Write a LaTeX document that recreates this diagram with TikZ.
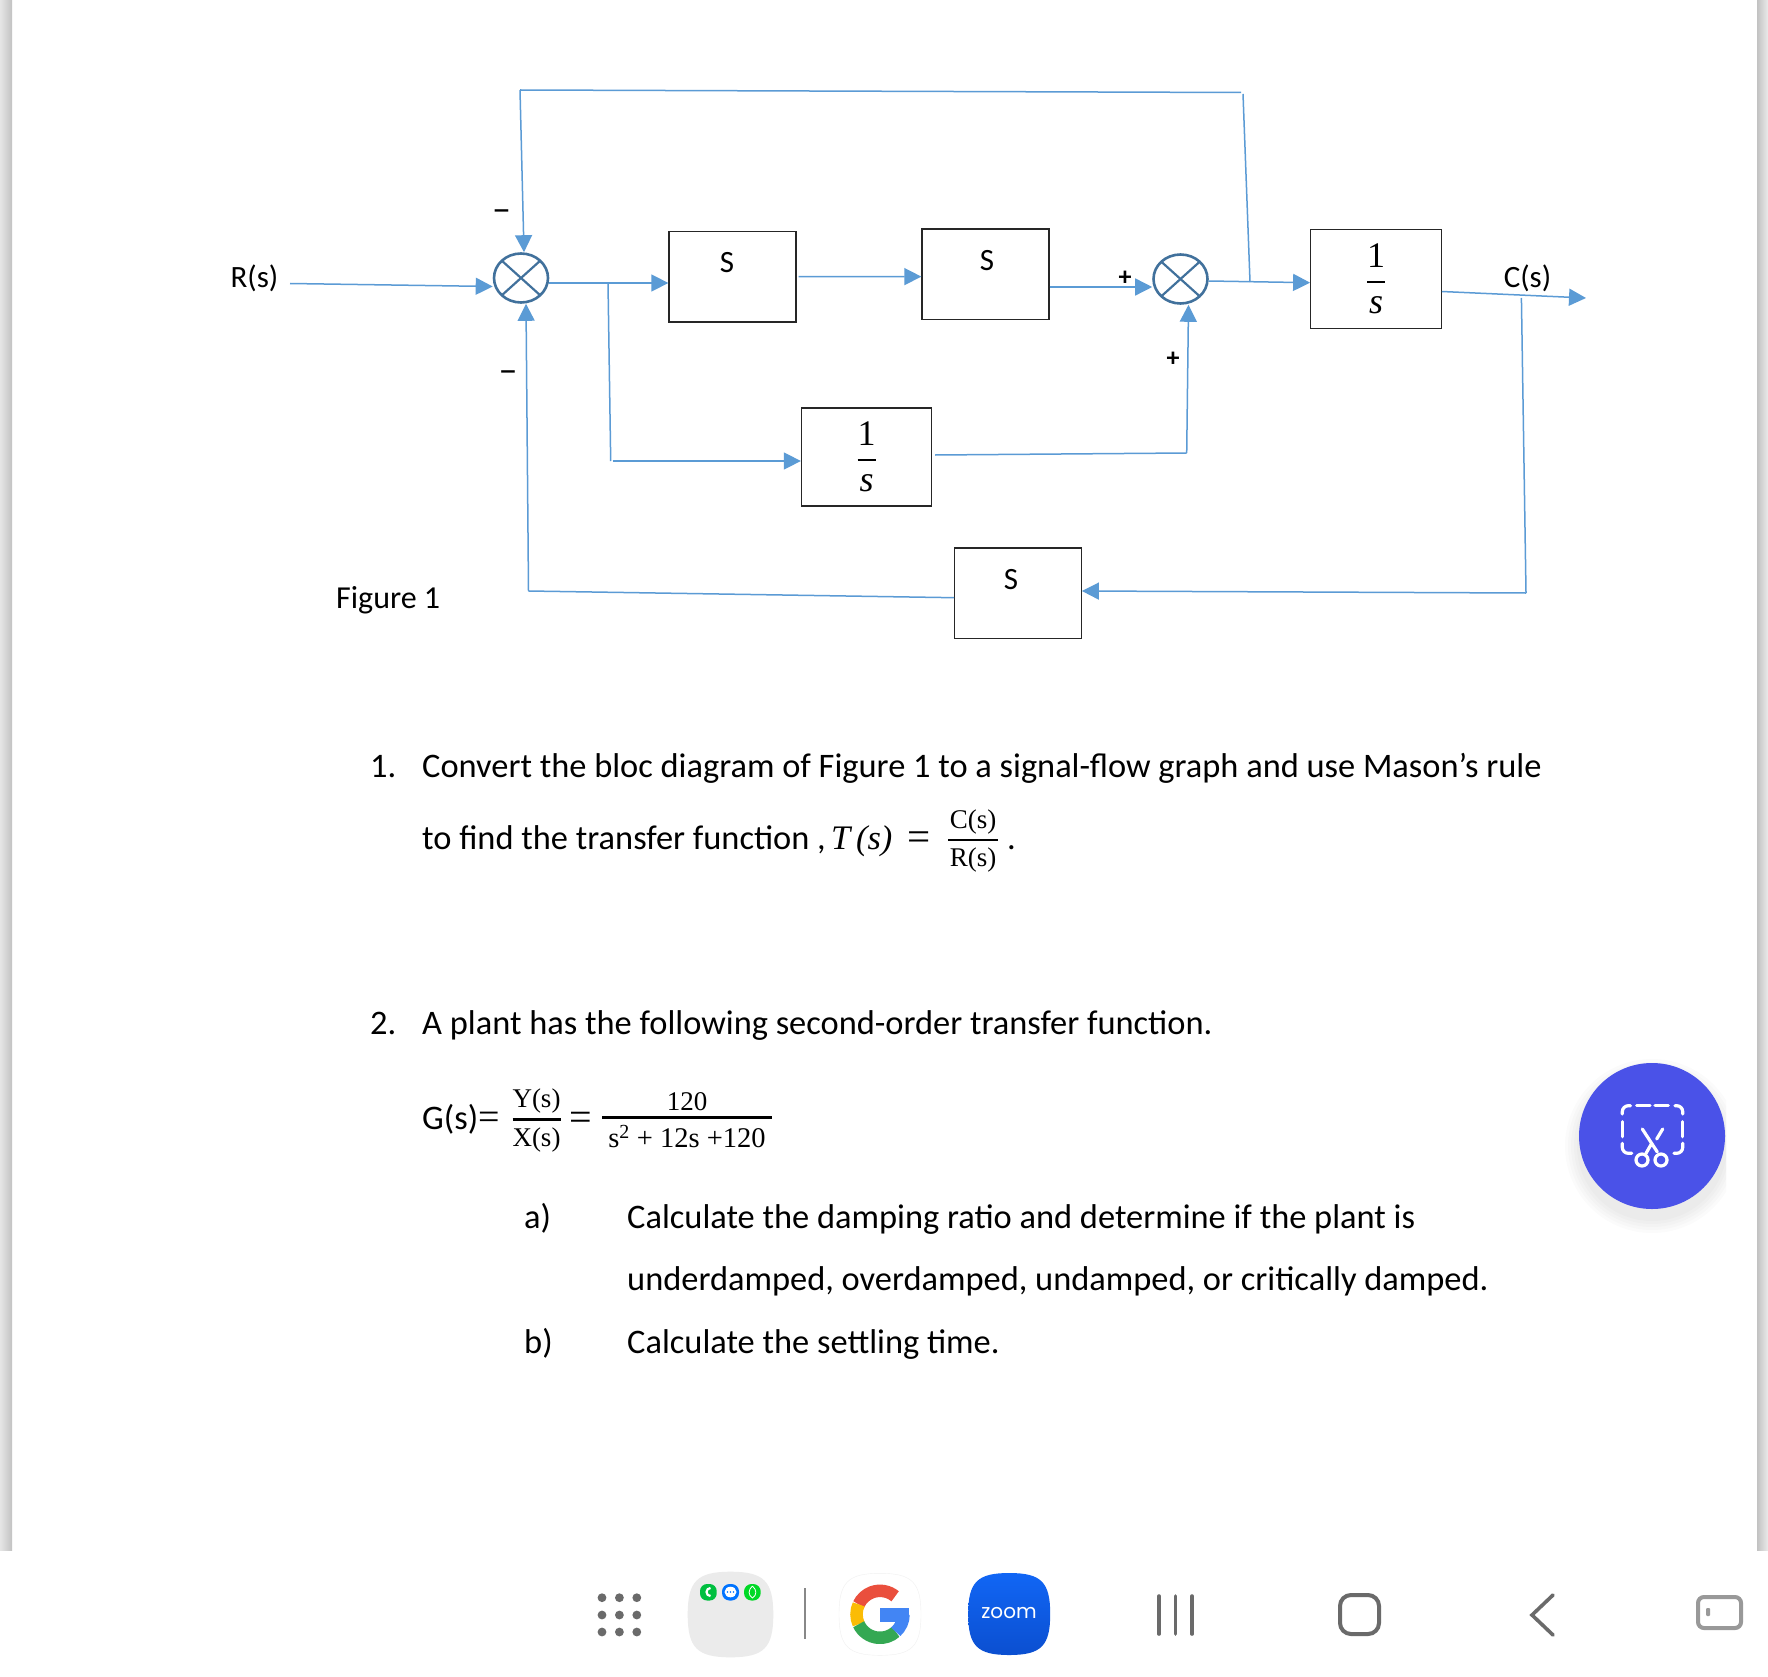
\documentclass[tikz,border=0pt]{standalone}
\usepackage{fontspec}
\setmainfont{Carlito}
\newfontfamily\serifpart{Liberation Serif}
\newfontfamily\roundpart{Poppins}
\usetikzlibrary{shapes.geometric, arrows.meta, positioning, calc}
\definecolor{wire}{HTML}{5B9BD5}
\definecolor{sumline}{HTML}{41719C}
\definecolor{snip}{HTML}{4A52E8}
\definecolor{navgray}{HTML}{6A6A6A}
\definecolor{gred}{HTML}{EA4F3D}
\definecolor{gyellow}{HTML}{FBBC05}
\definecolor{ggreen}{HTML}{34A853}
\definecolor{gblue}{HTML}{4285F4}
\definecolor{zoomtop}{HTML}{1166F5}
\definecolor{zoombottom}{HTML}{0B4FD0}
\newcommand{\ratio}[5]{\vbox{\hbox to #3{\hss#1\hss}\kern#4\hrule height 2.5pt\kern#5\hbox to #3{\hss#2\hss}}}
\newcommand{\txtsize}[1]{\fontsize{#1}{#1}\selectfont}
\tikzset{
	blockbox/.style={draw=black!85, line width=1.3pt, minimum width=#1, inner sep=0pt},
	sumnode/.style={ellipse, draw=sumline, line width=2.6pt, minimum width=54pt, minimum height=49pt, inner sep=0pt,
		path picture={\draw[sumline, line width=2.2pt]
			(path picture bounding box.center) +(-20,-18) -- +(20,18)
			(path picture bounding box.center) +(-20,18) -- +(20,-18);}},
	wireline/.style={draw=wire, line width=1.5pt},
	wirearrow/.style={wireline, -{Triangle[length=17pt,width=17pt,fill=wire]}},
	body/.style={anchor=base west, inner sep=0pt, font=\txtsize{34.4}},
	label/.style={inner sep=0pt, font=\txtsize{31}},
	sign/.style={inner sep=0pt, font=\bfseries\txtsize{26}},
	dashsign/.style={inner sep=0pt, font=\txtsize{38}},
	navline/.style={draw=navgray, line width=3.6pt, line cap=round},
	squircle/.style n args={3}{insert path={(#1,#2) ++(-#3,0)
		.. controls +(0,{-.78*#3}) and +({-.78*#3},0) .. ++(#3,-#3)
		.. controls +({.78*#3},0) and +(0,{-.78*#3}) .. ++(#3,#3)
		.. controls +(0,{.78*#3}) and +({.78*#3},0) .. ++(-#3,#3)
		.. controls +({-.78*#3},0) and +(0,{.78*#3}) .. ++(-#3,-#3) -- cycle}},
}
\begin{document}
\begin{tikzpicture}[x=1pt, y=-1pt]
	\useasboundingbox (0,0) rectangle (1768,1677);
	\fill[white] (0,0) rectangle (1768,1677);
	% page edges
	\shade[left color=black!10, right color=black!24] (0,0) rectangle (12,1550);
	\shade[left color=black!24, right color=black!8] (1757,0) rectangle (1768,1550);

	% blocks
	\node[sumnode] (sumA) at (521,278) {};
	\node[sumnode] (sumB) at (1180.5,279) {};
	\node[blockbox=127pt, minimum height=90.5pt] (sA) at (732.5,276.7) {};
	\node[blockbox=127pt, minimum height=90.5pt] (sB) at (985.5,274.2) {};
	\node[blockbox=130pt, minimum height=98pt] (inv) at (866.5,457) {\ratio{\serifpart\txtsize{36}1}{\serifpart\itshape\txtsize{36}s}{18pt}{13pt}{13pt}};
	\node[blockbox=130.5pt, minimum height=99pt] (invB) at (1376,279) {\ratio{\serifpart\txtsize{36}1}{\serifpart\itshape\txtsize{36}s}{18pt}{13pt}{13pt}};
	\node[blockbox=126.5pt, minimum height=90.5pt] (sC) at (1018,593.3) {};
	\node (sAt) at (727,263) [label] {S};
	\node (sBt) at (987,261) [label] {S};
	\node (sCt) at (1011,580) [label] {S};

	% junctions
	\coordinate (Rend) at (290,283.5);
	\coordinate (topL) at (520,90);
	\coordinate (topR) at (1241,92.5);
	\coordinate (topS) at (1243,94);
	\coordinate (topB) at (1250,282);
	\coordinate (brA) at (608,283);
	\coordinate (brB) at (610.7,461);
	\coordinate (brC) at (612.5,461);
	\coordinate (lowL) at (528.5,591);
	\coordinate (midR) at (1186.7,453);
	\coordinate (outA) at (1521.4,298);
	\coordinate (outB) at (1526,593);
	\coordinate (outE) at (1586,298);

	% connectors
	\draw[wirearrow] (Rend) -- ([yshift=-8.5pt]sumA.west);
	\draw[wirearrow] ([yshift=-5pt]sumA.east) -- ([yshift=-6.3pt]sA.west);
	\draw[wirearrow] ([xshift=2pt]sA.east) -- ([yshift=-2.4pt]sB.west);
	\draw[wirearrow] ([yshift=-12.8pt]sB.east) -- ([yshift=-8pt]sumB.west);
	\draw[wirearrow] (sumB.east) ++(0,2) -- ([yshift=-3.7pt]invB.west);
	\draw[wirearrow] (invB.east) ++(0,12.5) -- (outE);
	\draw[wireline] (topL) -- (topR);
	\draw[wirearrow] (topL) -- ([xshift=3pt]sumA.north);
	\draw[wireline] (topS) -- (topB);
	\draw[wireline] (brA) -- (brB);
	\draw[wirearrow] (brC) -- ([yshift=-4pt]inv.west);
	\draw[wireline] (inv.east) ++(3,-2) -- (midR);
	\draw[wirearrow] (midR) -- ([xshift=8pt]sumB.south);
	\draw[wireline] (outA) -- (outB);
	\draw[wirearrow] (outB) -- ([yshift=2.3pt]sC.east);
	\draw[wireline] ([yshift=-4.4pt]sC.west) -- (lowL);
	\draw[wirearrow] (lowL) -- ([xshift=5pt]sumA.south);

	% labels on the figure
	\node[label] (Rs) at (254.5,278) {R(s)};
	\node[label] (Cs) at (1527.5,278) {C(s)};
	\node[dashsign] (mnA) at (501.5,215.5) {–};
	\node[dashsign] (mnB) at (508,376.5) {–};
	\node[sign] (plA) at (1125,278) {+};
	\node[sign] (plB) at (1173,359) {+};
	\node[label, anchor=base west, font=\txtsize{32}] (fig) at (336,608) {Figure 1};

	% questions
	\node[body] (numA) at (370,777) {1.};
	\node[body] (qA) at (422,777) {Convert the bloc diagram of Figure 1 to a signal-flow graph and use Mason’s rule};
	\node[body] (qB) at (422,849.5) {to find the transfer function ,};
	\node[body] (eqT) at (831,849.5) {\serifpart\itshape T\,(s)};
	\node[body] (eqTb) at (907,850.5) {\serifpart\txtsize{41}=};
	\node (fracT) at (973,841) {\ratio{\serifpart\txtsize{27}C(s)}{\serifpart\txtsize{27}R(s)}{50pt}{4.5pt}{7pt}};
	\node[body] (dotT) at (1007,849.5) {.};
	\node[body] (numB) at (370,1034) {2.};
	\node[body] (qC) at (422,1034) {A plant has the following second-order transfer function.};
	\node[body] (Gs) at (422,1129.5) {G(s){\serifpart\txtsize{38}=}};
	\node (fracY) at (536.5,1120.5) {\ratio{\serifpart\txtsize{27}Y(s)}{\serifpart\txtsize{27}X(s)}{48pt}{4.5pt}{7pt}};
	\node[body] (eqG) at (569,1130.5) {\serifpart\txtsize{40}=};
	\node (fracP) at (687,1120.5) {\ratio{\serifpart\txtsize{27}120}{\serifpart\txtsize{28.5}s\textsuperscript{2} + 12s +120}{170pt}{5pt}{7pt}};
	\node[body] (la) at (524,1228) {a)};
	\node[body] (ta) at (627,1228) {Calculate the damping ratio and determine if the plant is};
	\node[body] (tb) at (627,1290.5) {underdamped, overdamped, undamped, or critically damped.};
	\node[body] (lb) at (524,1353) {b)};
	\node[body] (tc) at (627,1353) {Calculate the settling time.};

	% snip button
	\begin{scope}
		\clip (1560,1040) rectangle (1726,1250);
		\foreach \r in {87,84,81,78,75}
			\fill[black, opacity=0.015] (1652,1146) circle (\r);
	\end{scope}
	\fill[snip] (1652,1136) circle (73);
	\begin{scope}[white, line width=3.2pt, line cap=round]
		\draw[rounded corners=6pt] (1622.3,1114) -- (1622.3,1105.7) -- (1630.5,1105.7);
		\draw[rounded corners=6pt] (1675,1105.7) -- (1682.7,1105.7) -- (1682.7,1114);
		\draw[rounded corners=6pt] (1622.3,1143.3) -- (1622.3,1153.3) -- (1631.7,1153.3);
		\draw[rounded corners=6pt] (1682.7,1143.3) -- (1682.7,1153.3) -- (1674,1153.3);
		\draw (1636.7,1105.7) -- (1650,1105.7) (1655,1105.7) -- (1668.3,1105.7);
		\draw (1622.3,1121.7) -- (1622.3,1136.7) (1682.7,1121.7) -- (1682.7,1136.7);
		\draw (1642.3,1129) -- (1657.3,1152) (1662.7,1129) -- (1656.7,1139) (1651.7,1143.3) -- (1646,1153.3);
		\draw (1642,1160) circle (6) (1661,1160) circle (6);
	\end{scope}

	% navigation bar
	\foreach \x in {602,619.4,636.8}
		\foreach \y in {1597.7,1615,1632}
			\fill[navgray] (\x,\y) circle (4.4);
	\fill[black!8, squircle={730.5}{1614.5}{42.8}];
	\fill[green!50!teal, rounded corners=7pt] (700,1584) rectangle (716.7,1600.5);
	\draw[white, line width=2.2pt] (710.5,1588) arc (-90:-270:4 and 4);
	\fill[blue!55!cyan, rounded corners=7.5pt] (722,1584) rectangle (739,1600.5);
	\fill[white] (730.5,1592) ellipse (6 and 5.3);
	\foreach \x in {727.5,730.5,733.5}
		\fill[blue!55!cyan] (\x,1592) circle (0.9);
	\fill[green!70!teal, rounded corners=7.5pt] (744,1584) rectangle (760.7,1600.5);
	\draw[white, line width=0.8pt] (752.4,1586) .. controls (757,1590) and (757,1595) .. (752.4,1598) .. controls (748,1595) and (748,1590) .. (752.4,1586);
	\draw[navgray!80, line width=2pt] (805,1588) -- (805,1639);
	\draw[black!6, fill=white, squircle={880}{1614.3}{41}];
	\coordinate (gc) at (880,1614.3);
	\draw[gred, line width=12.5pt] (gc) ++(-50:23.5) arc (-50:-155:23.5);
	\draw[gyellow, line width=12.5pt] (gc) ++(-155:23.5) arc (-155:-205:23.5);
	\draw[ggreen, line width=12.5pt] (gc) ++(-205:23.5) arc (-205:-312:23.5);
	\draw[gblue, line width=12.5pt] (gc) ++(48:23.5) arc (48:0:23.5);
	\fill[gblue] (880,1607.7) rectangle (909.3,1621.7);
	\shade[top color=zoomtop, bottom color=zoombottom, squircle={1009.2}{1614}{41}];
	\node[text=white, inner sep=0pt, font=\roundpart\txtsize{20}] (zoomt) at (1009,1613) {zoom};
	\foreach \x in {1159,1175.6,1192}
		\draw[navline] (\x,1596) -- (\x,1634);
	\draw[navgray, line width=4pt, rounded corners=11pt] (1340,1595) rectangle (1379,1634);
	\draw[navline] (1553,1595) -- (1532,1615) -- (1553,1635);
	\draw[black!40, line width=4pt, rounded corners=6pt] (1698,1597) rectangle (1741,1628);
	\fill[black!40, rounded corners=1pt] (1706,1608) rectangle (1710,1616);
\end{tikzpicture}
\end{document}
